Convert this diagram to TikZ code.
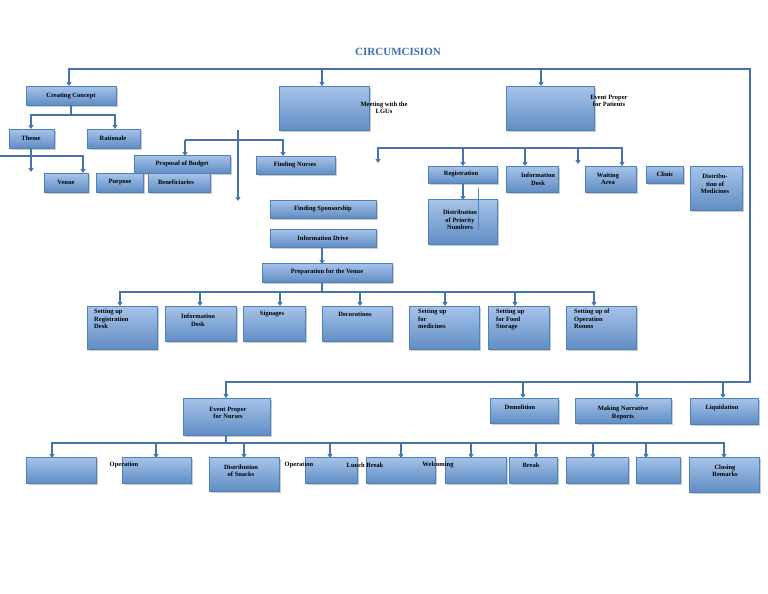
\documentclass[tikz,border=0pt]{standalone}
\usepackage{fontspec}
\setmainfont{Liberation Serif}
\usetikzlibrary{arrows.meta,shadows}
\definecolor{bl}{HTML}{4F81BD}
\definecolor{bltop}{HTML}{A7C4EA}
\definecolor{ttl}{HTML}{3A6FB5}
\tikzset{
 bx/.style={draw=bl,line width=0.6pt,top color=bltop,bottom color=bl!90,drop shadow={shadow xshift=1.5pt,shadow yshift=-1.5pt,opacity=0.4}},
 lbl/.style={font=\bfseries\fontsize{6.5}{7.5}\selectfont,align=center,inner sep=0pt},
 ln/.style={draw=bl!90!black,line width=1.6pt},
 ar/.style={ln,-{Triangle[length=4pt,width=5pt]}}
}
\newcommand{\bxx}[5]{\path[bx] (#2,#3) rectangle (#4,#5); \coordinate (#1) at (#2,#3);}
\begin{document}
\begin{tikzpicture}[x=1pt,y=-1pt]
\useasboundingbox (0,0) rectangle (768,594);
\node[font=\bfseries\fontsize{11}{13}\selectfont,text=ttl] (t) at (398,52) {CIRCUMCISION};
% connectors top
\coordinate (a1) at (69,69); \coordinate (a2) at (750,69); \coordinate (a3) at (750,382); \coordinate (a4) at (226,382);
\draw[ln] (a1) -- (a2) -- (a3) -- (a4);
\draw[ar] (69,68) -- (69,86);
\draw[ar] (322,69) -- (322,86);
\draw[ar] (541,69) -- (541,86);
% boxes top
\bxx{cc}{26}{86}{116}{105}
\bxx{mt}{279}{86}{369}{130}
\bxx{ep}{506}{86}{594}{130}
\node[lbl] (ccl) at (71,96) {Creating Concept};
\node[lbl] (mtl) at (384,108) {Meeting with the\\LGUs};
\node[lbl] (epl) at (609,101) {Event Proper\\for Patients};
\draw[ln] (71,105) -- (71,115); \draw[ln] (30,115) -- (116,115);
\draw[ar] (31,115) -- (31,129); \draw[ar] (115,115) -- (115,129);
\bxx{th}{9}{129}{54}{148}\node[lbl] (thl) at (31,138) {Theme};
\bxx{ra}{87}{129}{140}{148}\node[lbl] (ral) at (113,138) {Rationale};
\draw[ln] (31,148) -- (31,156); \draw[ln] (0,156) -- (84,156);
\draw[ar] (31,156) -- (31,172); \draw[ar] (83,156) -- (83,173);
\draw[ln] (238,130) -- (238,140); \draw[ln] (185,140) -- (284,140);
\draw[ar] (238,140) -- (238,201);
\draw[ar] (185,140) -- (185,156); \draw[ar] (283,140) -- (283,156);
\bxx{pb}{134}{155}{230}{173}\node[lbl] (pbl) at (182,164) {Proposal of Budget};
\bxx{fn}{256}{156}{335}{174}\node[lbl] (fnl) at (295,165) {Finding Nurses};
\bxx{ve}{44}{173}{88}{192}\node[lbl] (vel) at (66,182) {Venue};
\bxx{pu}{96}{173}{143}{192}\node[lbl] (pul) at (120,182) {Purpose};
\bxx{be}{148}{173}{210}{192}\node[lbl] (bel) at (176,182) {Beneficiaries};
\bxx{fs}{270}{200}{376}{218}\node[lbl] (fsl) at (323,209) {Finding Sponsorship};
\bxx{id}{270}{229}{376}{247}\node[lbl] (idl) at (323,238) {Information Drive};
\draw[ar] (322,247) -- (322,264);
\bxx{pv}{262}{263}{392}{282}\node[lbl] (pvl) at (327,272) {Preparation for the Venue};
\draw[ln] (322,282) -- (322,292); \draw[ln] (119,292) -- (595,292);
\foreach \x in {120,200,280,360,445,515,594} \draw[ar] (\x,292) -- (\x,306);
\bxx{r1}{87}{306}{157}{349}\node[lbl,align=left,anchor=north west] (r1l) at (94,309) {Setting up\\Registration\\Desk};
\bxx{r2}{165}{306}{236}{341}\node[lbl] (r2l) at (198,320) {Information\\Desk};
\bxx{r3}{243}{306}{305}{341}\node[lbl] (r3l) at (272,314) {Signages};
\bxx{r4}{322}{306}{392}{341}\node[lbl] (r4l) at (355,314) {Decorations};
\bxx{r5}{409}{306}{479}{349}\node[lbl,align=left,anchor=north west] (r5l) at (418,309) {Setting up\\for\\medicines};
\bxx{r6}{488}{306}{549}{349}\node[lbl,align=left,anchor=north west] (r6l) at (496,309) {Setting up\\for Food\\Storage};
\bxx{r7}{566}{306}{636}{349}\node[lbl,align=left,anchor=north west] (r7l) at (574,309) {Setting up of\\Operation\\Rooms};
% patients
\draw[ln] (377,148) -- (623,148);
\draw[ar] (378,148) -- (378,163); \draw[ar] (463,148) -- (463,166); \draw[ar] (525,148) -- (525,166); \draw[ar] (578,148) -- (578,164); \draw[ar] (622,148) -- (622,166);
\bxx{pr}{428}{166}{497}{183}\node[lbl] (prl) at (461,174) {Registration};
\bxx{pi}{506}{166}{558}{192}\node[lbl] (pil) at (538,179) {Information\\Desk};
\bxx{pw}{585}{166}{636}{192}\node[lbl] (pwl) at (608,179) {Waiting\\Area};
\bxx{pc}{646}{166}{683}{183}\node[lbl] (pcl) at (665,174) {Clinic};
\bxx{pd}{690}{166}{742}{210}\node[lbl] (pdl) at (715,184) {Distribu-\\tion of\\Medicines};
\draw[ar] (463,183) -- (463,200);
\bxx{pn}{428}{199}{497}{244}\node[lbl] (pnl) at (460,220) {Distribution\\of Priority\\Numbers};
\draw[bl,line width=0.8pt] (478,188) -- (478,230);
% lower
\draw[ar] (226,381) -- (226,398);
\foreach \x in {523,637,723} \draw[ar] (\x,382) -- (\x,398);
\bxx{en}{183}{398}{270}{435}\node[lbl] (enl) at (228,413) {Event Proper\\for Nurses};
\bxx{de}{490}{398}{558}{423}\node[lbl] (del) at (520,407) {Demolition};
\bxx{mn}{575}{398}{671}{423}\node[lbl] (mnl) at (623,413) {Making Narrative\\Reports};
\bxx{li}{690}{398}{758}{424}\node[lbl] (lil) at (722,408) {Liquidation};
\draw[ln] (154,443) -- (154,443);
\draw[ln] (226,435) -- (226,443); \draw[ln] (51,443) -- (725,443);
\foreach \x in {52,156,244,330,401,471,536,593,646,724} \draw[ar] (\x,443) -- (\x,458);
\bxx{b1}{26}{457}{96}{483}
\bxx{b2}{122}{457}{191}{483}
\bxx{b3}{209}{457}{279}{491}
\bxx{b4}{305}{457}{357}{483}
\bxx{b5}{366}{457}{435}{483}
\bxx{b6}{445}{457}{506}{483}
\bxx{b7}{509}{457}{557}{483}
\bxx{b8}{566}{457}{628}{483}
\bxx{b9}{636}{457}{680}{483}
\bxx{b10}{689}{457}{759}{492}
\node[lbl] (o1) at (124,465) {Operation};
\node[lbl] (ds) at (241,471) {Distribution\\of Snacks};
\node[lbl] (o2) at (299,465) {Operation};
\node[lbl] (lb) at (365,465) {Lunch Break};
\node[lbl] (wc) at (438,465) {Welcoming};
\node[lbl] (bk) at (531,465) {Break};
\node[lbl] (cr) at (725,471) {Closing\\Remarks};
\end{tikzpicture}
\end{document}
